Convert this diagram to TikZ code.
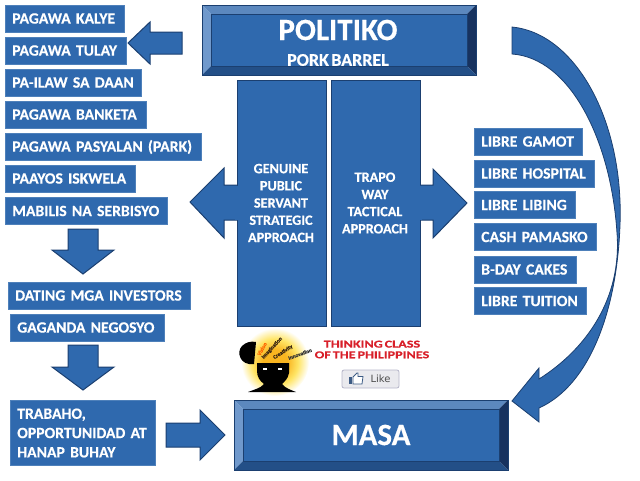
\documentclass[tikz,border=0pt]{standalone}
\usepackage{fontspec}
\setmainfont{Carlito}[WordSpace=0.6,BoldFeatures={FakeBold=0.4}]
\newfontfamily\likefont{DejaVu Sans}
\usetikzlibrary{calc}
\definecolor{boxblue}{HTML}{2F69AE}
\definecolor{edgeblue}{HTML}{1B3F70}
\definecolor{bevtop}{HTML}{5C88BE}
\definecolor{bevleft}{HTML}{7099CC}
\definecolor{bevright}{HTML}{17325F}
\definecolor{bevbottom}{HTML}{234F87}
\definecolor{logored}{HTML}{D8202A}
\definecolor{glowa}{HTML}{F9B520}
\definecolor{glowb}{HTML}{FFE566}
\pgfdeclareradialshading{logoglow}{\pgfpoint{0bp}{0bp}}{color(0bp)=(glowa); color(9bp)=(glowa); color(17bp)=(glowb); color(25bp)=(white); color(50bp)=(white)}
\tikzset{
	listbox/.style={fill=boxblue, draw=boxblue!85!white, line width=0.5pt, anchor=west, minimum height=27pt, inner xsep=7pt, inner ysep=0pt, text=white, align=left, font=\fontsize{15.7}{18}\selectfont\bfseries},
	blockarrow/.style={fill=boxblue, draw=edgeblue, line width=1pt, line join=miter},
	panel/.style={fill=boxblue, draw=edgeblue, line width=1pt},
	paneltext/.style={text=white, align=center, font=\fontsize{14.2}{17.2}\selectfont\bfseries},
	headtext/.style={text=white, font=\bfseries},
	ideatext/.style={font=\fontsize{5.5}{6}\selectfont\bfseries, inner sep=0pt}
}
\begin{document}
\begin{tikzpicture}[x=1pt, y=-1pt]
\useasboundingbox (0,0) rectangle (640,480);

% left and right lists
\foreach \name/\xa/\yc/\w/\txt in {
	kalye/5/18.5/119/PAGAWA KALYE,
	tulay/5/50.5/121/PAGAWA TULAY,
	ilaw/5/82.5/136/PA-ILAW SA DAAN,
	banketa/5/114.5/141/PAGAWA BANKETA,
	park/5/147/196/PAGAWA PASYALAN (PARK),
	iskwela/5/178.5/130/PAAYOS ISKWELA,
	serbisyo/5/211/162/MABILIS NA SERBISYO,
	investors/8/295.5/182/DATING MGA INVESTORS,
	negosyo/10/327.5/154/GAGANDA NEGOSYO,
	gamot/474/141.5/108/LIBRE GAMOT,
	hospital/474/173.5/120/LIBRE HOSPITAL,
	libing/474/205/101/LIBRE LIBING,
	pamasko/474/237/122/CASH PAMASKO,
	cakes/474/269.5/102/B-DAY CAKES,
	tuition/474/301/112/LIBRE TUITION}{
	\node[listbox, text width=\w pt-14pt] (\name) at (\xa,\yc) {\mbox{\txt}};
}
\node[listbox, minimum height=65pt, text width=131pt, font=\fontsize{15.7}{19.3}\selectfont\bfseries] (trabaho) at (10,433) {TRABAHO,\\\mbox{OPPORTUNIDAD AT}\\HANAP BUHAY};

% two centre panels
\draw[panel] (237,80) rectangle (326,326);
\draw[panel] (331,80) rectangle (420,326);

% arrows
\draw[blockarrow] (182,32)--(150,32)--(150,22)--(128,43)--(150,64)--(150,54)--(182,54)--cycle;
\draw[blockarrow] (237,185)--(224,185)--(224,168)--(190,202)--(224,238)--(224,220)--(237,220);
\draw[blockarrow] (420,185)--(433,185)--(433,169)--(467,203)--(433,238)--(433,220)--(420,220);
\fill[boxblue] (235,185.5) rectangle (239,219.5);
\fill[boxblue] (418,185.5) rectangle (422,219.5);
\draw[blockarrow] (68,229)--(98,229)--(98,250)--(114,250)--(83,274)--(52,250)--(68,250)--cycle;
\draw[blockarrow] (68,345)--(98,345)--(98,367)--(114,367)--(83,390)--(52,367)--(68,367)--cycle;
\draw[blockarrow] (166,423)--(200,423)--(200,410)--(225,435)--(200,460)--(200,447)--(166,447)--cycle;

% curved arrow into the lower block
\draw[blockarrow, line width=0.8pt] (512,27) .. controls (575,33) and (624,120) .. (620,225)
	.. controls (617,310) and (590,385) .. (539,408)--(539,422)--(512,401)--(539,368)--(539,379)
	.. controls (585,350) and (622,300) .. (617,233)
	.. controls (611,140) and (570,58) .. (512,54)--cycle;

% bevelled blocks
\foreach \name/\xa/\ya/\xb/\yb in {politiko/202/5/476/75, masa/234/400/508/470}{
	\fill[bevtop] (\xa,\ya)--(\xb,\ya)--(\xb-9,\ya+9)--(\xa+9,\ya+9)--cycle;
	\fill[bevleft] (\xa,\ya)--(\xa+9,\ya+9)--(\xa+9,\yb-9)--(\xa,\yb)--cycle;
	\fill[bevright] (\xb,\ya)--(\xb,\yb)--(\xb-9,\yb-9)--(\xb-9,\ya+9)--cycle;
	\fill[bevbottom] (\xa,\yb)--(\xa+9,\yb-9)--(\xb-9,\yb-9)--(\xb,\yb)--cycle;
	\draw[fill=boxblue, draw=edgeblue, line width=0.6pt] (\xa+9,\ya+9) rectangle (\xb-9,\yb-9);
	\draw[edgeblue, line width=1pt] (\xa,\ya) rectangle (\xb,\yb);
	\coordinate (\name) at ({(\xa+\xb)/2},{(\ya+\yb)/2});
}

\node[headtext, font=\fontsize{31}{31}\selectfont\bfseries] (poltitle) at (338,30) {POLITIKO};
\node[headtext, font=\fontsize{18}{18}\selectfont\bfseries] (porktitle) at (338,60) {PORK BARREL};
\node[headtext, font=\fontsize{31}{31}\selectfont\bfseries] (masatitle) at (371,435) {MASA};

\node[paneltext] (genuine) at (281,203) {GENUINE\\PUBLIC\\SERVANT\\STRATEGIC\\APPROACH};
\node[paneltext] (trapo) at (375,203) {TRAPO\\WAY\\TACTICAL\\APPROACH};

% logo
\shade[shading=logoglow] (275,362) circle (34);
\fill[black] (254,364) .. controls (240,366) and (236,352) .. (242,346) .. controls (246,342) and (251,341) .. (256,342) --cycle;
\fill[black] (257,363)--(289,363)--(289,373) .. controls (288,379) and (284,382) .. (282,384)
	.. controls (285,388) and (291,390) .. (296,392)--(248,392) .. controls (253,390) and (261,388) .. (264,384)
	.. controls (260,381) and (257,377) .. (257,371)--cycle;
\fill[white] (263,368) rectangle (267,369.5);
\fill[white] (278,368) rectangle (282,369.5);
\node[ideatext, text=orange!80!red, rotate=60] (vision) at (262,349) {Vision};
\node[ideatext, text=black!70!brown, rotate=47] (imagination) at (272,348) {Imagination};
\node[ideatext, text=black!70!brown, rotate=33] (creativity) at (283,352) {Creativity};
\node[ideatext, text=black!80, rotate=20] (innovation) at (300,354) {Innovation};

\node[text=logored, align=center, xscale=1.35, transform shape, font=\fontsize{10.5}{10.7}\selectfont\bfseries] (thinking) at (372,349.5) {THINKING CLASS\\OF THE PHILIPPINES};

% like button
\draw[fill=blue!10!gray!15, draw=blue!15!gray!50, line width=0.8pt, rounded corners=2pt] (342,370) rectangle (399,388);
\fill[edgeblue!85] (349,377) rectangle (352,384);
\draw[edgeblue!85, fill=white, line width=0.8pt] (353,377)--(357,373)--(358,373)--(358,376.5)--(363,376.5)--(362,384)--(353,384)--cycle;
\node[text=black!70, inner sep=0pt, font=\fontsize{10}{10}\selectfont\likefont] (like) at (380.5,379) {Like};
\end{tikzpicture}
\end{document}
